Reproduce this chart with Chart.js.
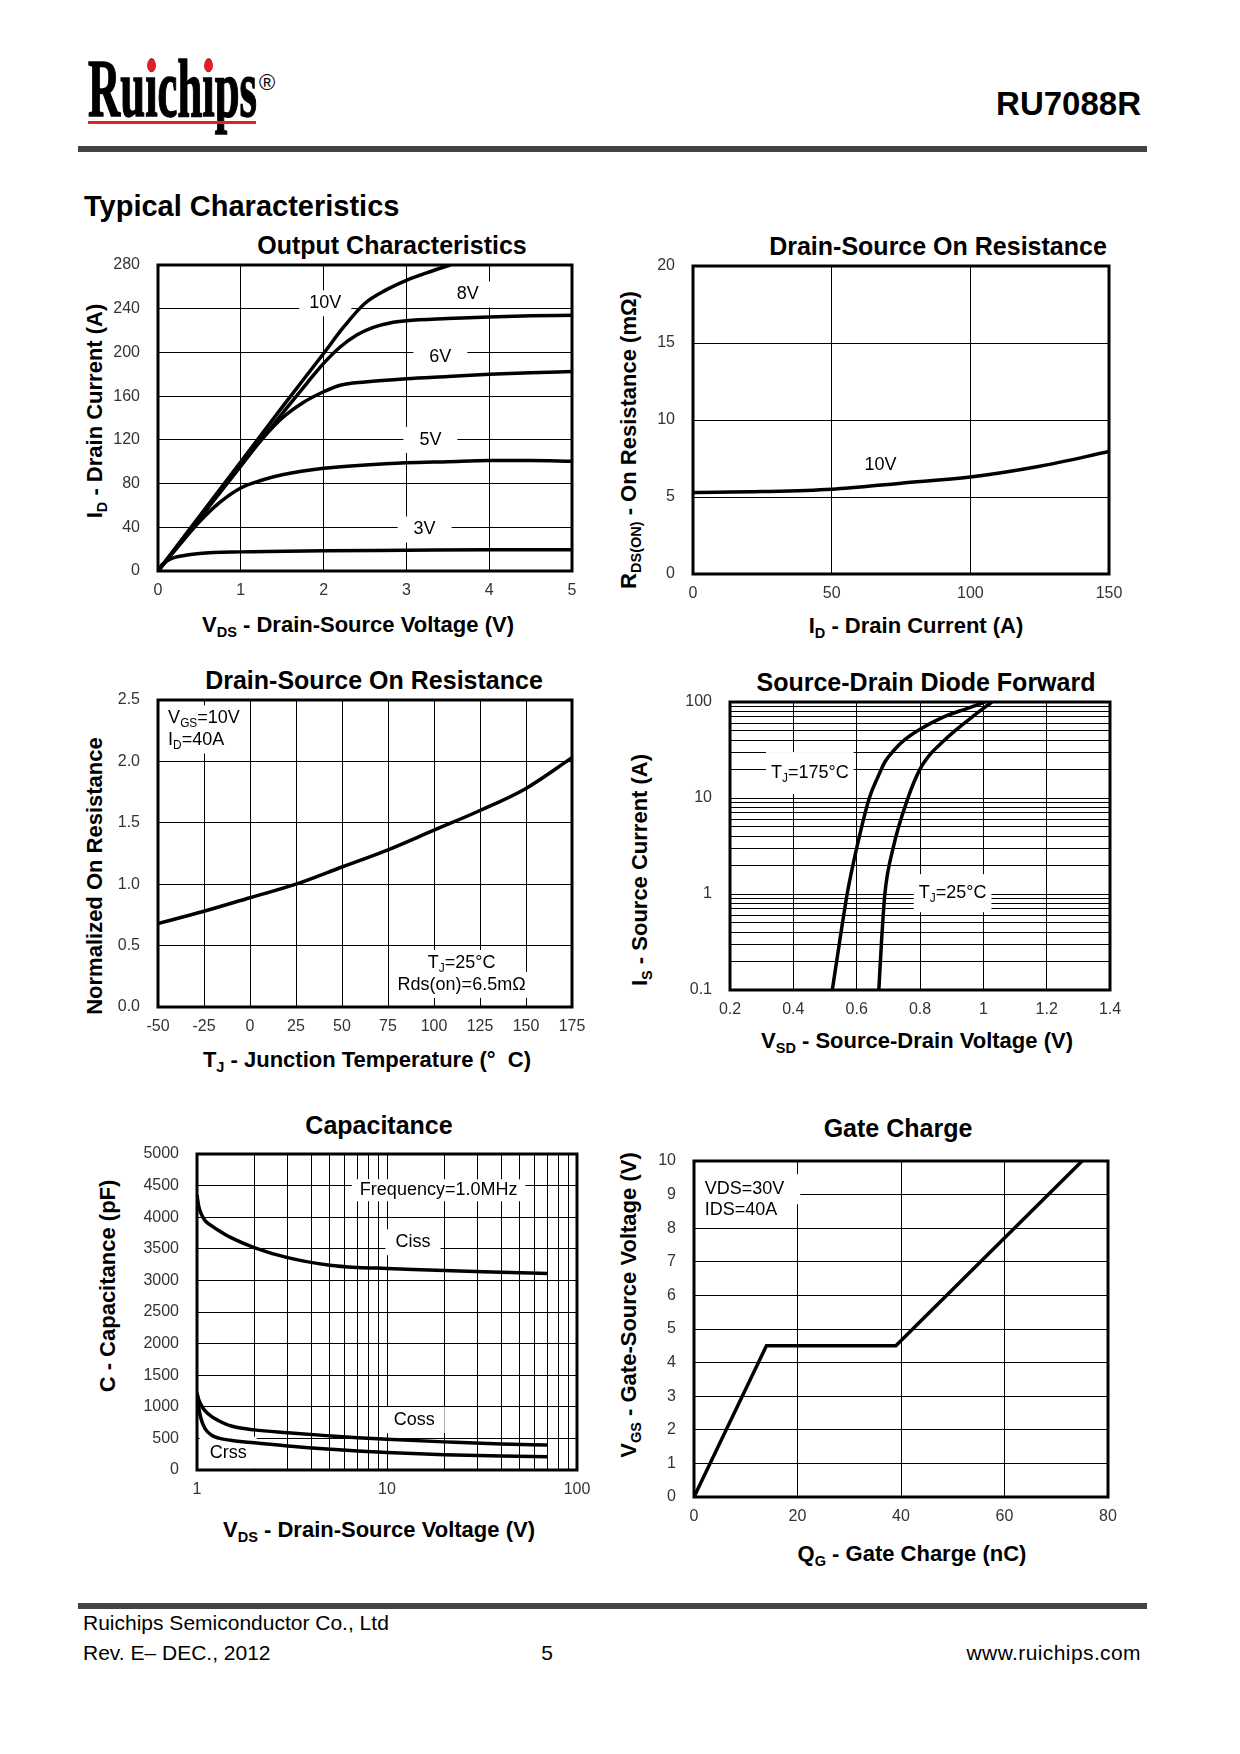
<!DOCTYPE html>
<html>
<head>
<meta charset="utf-8">
<script src="https://cdn.jsdelivr.net/npm/chart.js@4.4.0/dist/chart.umd.min.js"></script>
<style>
body { margin: 0; background: #fff; }
#page { position: relative; width: 1240px; height: 1754px; overflow: hidden; font-family: "Liberation Sans", Arial, sans-serif; color: #000; }
.abs { position: absolute; white-space: nowrap; }
.ct { font-weight: bold; font-size: 25px; transform: translate(-50%, -50%); }
.at { font-weight: bold; font-size: 22px; transform: translate(-50%, -50%); }
.ay { font-weight: bold; font-size: 22px; transform: translate(-50%, -50%) rotate(-90deg); }
.sb { font-size: 0.66em; vertical-align: -0.3em; }
.bar { position: absolute; left: 78px; width: 1069px; height: 6px; background: #444; }
.foot { font-size: 21px; transform: translateY(-50%); }
canvas { position: absolute; }
</style>
</head>
<body>
<div id="page">
  <div class="abs" style="left:88px;top:48px;font-family:'Liberation Serif',serif;font-weight:bold;font-size:82px;line-height:82px;transform:scaleX(0.545);transform-origin:left top;-webkit-text-stroke:1.5px #000;">Ruichips</div>
  <div class="abs" style="left:147px;top:59px;width:9px;height:13px;border-radius:50%;background:#e31e24;"></div>
  <div class="abs" style="left:204px;top:59px;width:9px;height:13px;border-radius:50%;background:#e31e24;"></div>
  <div class="abs" style="left:88px;top:121px;width:168px;height:3px;background:#e31e24;"></div>
  <div class="abs" style="left:259px;top:70px;font-size:22px;">®</div>
  <div class="abs" style="right:99px;top:104px;font-size:33px;font-weight:bold;transform:translateY(-50%);">RU7088R</div>
  <div class="bar" style="top:146px;"></div>
  <div class="abs" style="left:84px;top:206px;font-size:29px;font-weight:bold;transform:translateY(-50%);">Typical Characteristics</div>

  <div class="abs ct" style="left:392px;top:245px;">Output Characteristics</div>
  <div class="abs at" style="left:358px;top:626px;">V<span class="sb">DS</span> - Drain-Source Voltage (V)</div>
  <div class="abs ay" style="left:96px;top:411px;">I<span class="sb">D</span> - Drain Current (A)</div>

  <div class="abs ct" style="left:938px;top:246px;">Drain-Source On Resistance</div>
  <div class="abs at" style="left:916px;top:627px;">I<span class="sb">D</span> - Drain Current (A)</div>
  <div class="abs ay" style="left:630px;top:440px;">R<span class="sb">DS(ON)</span> - On Resistance (mΩ)</div>

  <div class="abs ct" style="left:374px;top:680px;">Drain-Source On Resistance</div>
  <div class="abs at" style="left:367px;top:1061px;">T<span class="sb">J</span> - Junction Temperature (°&nbsp; C)</div>
  <div class="abs ay" style="left:95px;top:876px;">Normalized On Resistance</div>

  <div class="abs ct" style="left:926px;top:682px;">Source-Drain Diode Forward</div>
  <div class="abs at" style="left:917px;top:1042px;">V<span class="sb">SD</span> - Source-Drain Voltage (V)</div>
  <div class="abs ay" style="left:641px;top:870px;">I<span class="sb">S</span> - Source Current (A)</div>

  <div class="abs ct" style="left:379px;top:1125px;">Capacitance</div>
  <div class="abs at" style="left:379px;top:1531px;">V<span class="sb">DS</span> - Drain-Source Voltage (V)</div>
  <div class="abs ay" style="left:108px;top:1286px;">C - Capacitance (pF)</div>

  <div class="abs ct" style="left:898px;top:1128px;">Gate Charge</div>
  <div class="abs at" style="left:912px;top:1555px;">Q<span class="sb">G</span> - Gate Charge (nC)</div>
  <div class="abs ay" style="left:630px;top:1305px;">V<span class="sb">GS</span> - Gate-Source Voltage (V)</div>

  <div class="bar" style="top:1603px;"></div>
  <div class="abs foot" style="left:83px;top:1623px;">Ruichips Semiconductor Co., Ltd</div>
  <div class="abs foot" style="left:83px;top:1653px;">Rev. E– DEC., 2012</div>
  <div class="abs foot" style="left:547px;top:1653px;transform:translate(-50%,-50%);">5</div>
  <div class="abs foot" style="right:99px;top:1653px;letter-spacing:0.4px;">www.ruichips.com</div>
</div>
<script>
// Output characteristics (VDS in V, ID in A)
const vds10 = [0, 0.5, 1, 1.5, 2, 2.25, 2.5, 2.75, 3, 3.25, 3.53];
const id10 = [0, 50, 100, 150, 199, 224, 245, 257, 266, 273, 280];
const vds8 = [0, 0.5, 1, 1.5, 1.8, 2, 2.2, 2.4, 2.6, 2.8, 3, 3.5, 4, 4.5, 5];
const id8 = [0, 48, 97, 144, 172, 190, 205, 216, 223, 227, 229, 231, 232.5, 233.5, 234];
const vds6 = [0, 0.5, 1, 1.25, 1.5, 1.75, 2, 2.2, 2.5, 3, 3.5, 4, 4.5, 5];
const id6 = [0, 48, 96, 120, 140, 154, 164, 170, 173, 176, 178, 180, 181.5, 182.5];
const vds5 = [0, 0.25, 0.5, 0.75, 1, 1.25, 1.5, 2, 2.5, 3, 3.5, 4, 4.5, 5];
const id5 = [0, 23, 45, 63, 76, 83, 88, 94, 97, 99, 100, 101, 101, 100.5];
const vds3 = [0, 0.05, 0.15, 0.3, 0.5, 1, 2, 3, 4, 5];
const id3 = [0, 6, 11, 14, 16, 17.5, 18.5, 19, 19.5, 19.5];
const outTicksX = [0, 1, 2, 3, 4, 5];
const outTicksY = [0, 40, 80, 120, 160, 200, 240, 280];

// On resistance vs drain current (VGS = 10V)
const idRds = [0, 25, 50, 75, 100, 125, 150];
const rds10 = [5.3, 5.35, 5.5, 5.9, 6.3, 7.0, 7.95];
const rdsTicksX = [0, 50, 100, 150];
const rdsTicksY = [0, 5, 10, 15, 20];

// Normalized on resistance vs junction temperature
const tj = [-50, -25, 0, 25, 50, 75, 100, 125, 150, 175];
const rNorm = [0.68, 0.78, 0.89, 1.0, 1.14, 1.28, 1.44, 1.6, 1.78, 2.03];
const tjTicks = [-50, -25, 0, 25, 50, 75, 100, 125, 150, 175];
const rNormTicks = [0, 0.5, 1, 1.5, 2, 2.5];

// Source-drain diode forward (VSD in V, IS in A)
const vsd175 = [0.523, 0.545, 0.57, 0.60, 0.64, 0.665, 0.69, 0.72, 0.75, 0.80, 0.875, 0.95, 1.005];
const is175 = [0.1, 0.3, 1, 3, 10, 16, 24, 32, 40, 52, 70, 86, 100];
const vsd25 = [0.670, 0.678, 0.689, 0.715, 0.762, 0.80, 0.83, 0.87, 0.91, 0.965, 1.027];
const is25 = [0.1, 0.3, 1, 3, 10, 20, 28, 38, 50, 70, 100];
const vsdTicks = [0.2, 0.4, 0.6, 0.8, 1, 1.2, 1.4];
const isTicks = [0.1, 0.2, 0.3, 0.4, 0.5, 0.6, 0.7, 0.8, 0.9, 1, 2, 3, 4, 5, 6, 7, 8, 9,
                 10, 20, 30, 40, 50, 60, 70, 80, 90, 100];
const isLabels = [0.1, 1, 10, 100];

// Capacitance (VDS in V, C in pF)
const vdsCap = [1, 1.02, 1.05, 1.1, 1.2, 1.3, 1.5, 2, 3, 5, 7, 10, 20, 40, 70];
const ciss = [4350, 4180, 4060, 3950, 3860, 3790, 3680, 3520, 3360, 3240, 3205, 3190, 3155, 3130, 3110];
const coss = [1220, 1120, 1030, 940, 840, 780, 700, 635, 590, 540, 510, 485, 445, 410, 395];
const crss = [1220, 1000, 810, 660, 545, 505, 470, 430, 380, 330, 300, 275, 243, 222, 210];
const capTicksX = [1, 2, 3, 4, 5, 6, 7, 8, 9, 10, 20, 30, 40, 50, 60, 70, 80, 90, 100];
const capLabelsX = [1, 10, 100];
const capTicksY = [0, 500, 1000, 1500, 2000, 2500, 3000, 3500, 4000, 4500, 5000];

// Gate charge (QG in nC, VGS in V)
const qg = [0, 14, 39, 75];
const vgs = [0, 4.5, 4.5, 10];
const qgTicks = [0, 20, 40, 60, 80];
const vgsTicks = [0, 1, 2, 3, 4, 5, 6, 7, 8, 9, 10];

Chart.defaults.font.family = '"Liberation Sans", Arial, sans-serif';

const page = document.getElementById('page');

function series(xs, ys, smooth) {
    return {
        data: xs.map((x, i) => ({x: x, y: ys[i]})),
        borderColor: '#000',
        borderWidth: 3.5,
        pointRadius: 0,
        fill: false,
        tension: 0,
        cubicInterpolationMode: smooth ? 'monotone' : 'default'
    };
}

function drawNote(ctx, px, py, n) {
    const size = 18, subSize = size * 0.66;
    let w = 0;
    const segs = n.parts.map(p => {
        const sub = p[1] === 1;
        ctx.font = (sub ? subSize : size) + 'px "Liberation Sans", Arial, sans-serif';
        const sw = ctx.measureText(p[0]).width;
        w += sw;
        return {t: p[0], sub: sub, w: sw};
    });
    const x0 = n.align === 'left' ? px : px - w / 2;
    if (n.bg !== false) {
        const pad = n.pad || [10, 4];
        ctx.fillStyle = '#fff';
        ctx.fillRect(x0 - pad[0], py - size / 2 - pad[1], w + 2 * pad[0], size + 2 * pad[1]);
    }
    ctx.fillStyle = '#000';
    ctx.textAlign = 'left';
    ctx.textBaseline = 'middle';
    let x = x0;
    segs.forEach(s => {
        ctx.font = (s.sub ? subSize : size) + 'px "Liberation Sans", Arial, sans-serif';
        ctx.fillText(s.t, x, s.sub ? py + size * 0.3 : py);
        x += s.w;
    });
}

function notesPlugin(notes) {
    return {
        id: 'notes',
        beforeDatasetsDraw(chart) {
            const ctx = chart.ctx, a = chart.chartArea;
            ctx.save();
            notes.forEach(n => drawNote(ctx, chart.scales.x.getPixelForValue(n.x), chart.scales.y.getPixelForValue(n.y), n));
            ctx.strokeStyle = '#000';
            ctx.lineWidth = 3;
            ctx.strokeRect(a.left, a.top, a.right - a.left, a.bottom - a.top);
            ctx.restore();
        }
    };
}

function axis(a, dir, size) {
    return {
        type: a.type || 'linear',
        min: a.min,
        max: a.max,
        grid: {color: '#000', lineWidth: 1, drawTicks: false},
        border: {display: false},
        ticks: {
            autoSkip: false,
            maxRotation: 0,
            padding: dir === 'y' ? 18 : 10,
            color: '#333',
            font: {size: 16},
            callback: a.label || (v => String(v))
        },
        afterBuildTicks: s => { s.ticks = a.ticks.map(v => ({value: v})); },
        afterFit: s => { if (dir === 'y') s.width = size; else s.height = size; }
    };
}

// label padding of the y axis adds to the top gap, so keep padT above it
function makeChart(g, cfg) {
    const padL = 80, padT = 34, padR = 34, padB = 45;
    const w = g.r - g.l + padL + padR, h = g.b - g.t + padT + padB;
    const cv = document.createElement('canvas');
    cv.width = w; cv.height = h;
    cv.style.left = (g.l - padL) + 'px';
    cv.style.top = (g.t - padT) + 'px';
    cv.style.width = w + 'px';
    cv.style.height = h + 'px';
    page.appendChild(cv);
    return new Chart(cv.getContext('2d'), {
        type: 'line',
        data: {datasets: cfg.datasets},
        options: {
            responsive: false,
            animation: false,
            devicePixelRatio: 1,
            layout: {padding: {left: 0, top: padT, right: padR, bottom: 0}},
            plugins: {legend: {display: false}, tooltip: {enabled: false}},
            scales: {x: axis(cfg.x, 'x', padB), y: axis(cfg.y, 'y', padL)}
        },
        plugins: [notesPlugin(cfg.notes || [])]
    });
}

makeChart({l: 158, t: 265, r: 572, b: 571}, {
    datasets: [series(vds10, id10, true), series(vds8, id8, true), series(vds6, id6, true),
               series(vds5, id5, true), series(vds3, id3, true)],
    x: {min: 0, max: 5, ticks: outTicksX},
    y: {min: 0, max: 280, ticks: outTicksY},
    notes: [
        {x: 2.02, y: 245, parts: [['10V']], pad: [10, 4]},
        {x: 3.74, y: 253, parts: [['8V']], pad: [14, 4]},
        {x: 3.41, y: 196, parts: [['6V']], pad: [16, 4]},
        {x: 3.29, y: 120, parts: [['5V']], pad: [16, 4]},
        {x: 3.22, y: 38, parts: [['3V']], pad: [16, 4]}
    ]
});

makeChart({l: 693, t: 266, r: 1109, b: 574}, {
    datasets: [series(idRds, rds10, true)],
    x: {min: 0, max: 150, ticks: rdsTicksX},
    y: {min: 0, max: 20, ticks: rdsTicksY},
    notes: [{x: 67.6, y: 7.06, parts: [['10V']], bg: false}]
});

makeChart({l: 158, t: 700, r: 572, b: 1007}, {
    datasets: [series(tj, rNorm, true)],
    x: {min: -50, max: 175, ticks: tjTicks},
    y: {min: 0, max: 2.5, ticks: rNormTicks, label: v => v.toFixed(1)},
    notes: [
        {x: -44.5, y: 2.35, align: 'left', parts: [['V'], ['GS', 1], ['=10V']], pad: [4, 4]},
        {x: -44.5, y: 2.17, align: 'left', parts: [['I'], ['D', 1], ['=40A']], pad: [4, 4]},
        {x: 115, y: 0.358, parts: [['T'], ['J', 1], ['=25°C']], pad: [8, 4]},
        {x: 115, y: 0.18, parts: [['Rds(on)=6.5mΩ']], pad: [6, 4]}
    ]
});

makeChart({l: 730, t: 702, r: 1110, b: 990}, {
    datasets: [series(vsd175, is175, true), series(vsd25, is25, true)],
    x: {min: 0.2, max: 1.4, ticks: vsdTicks},
    y: {type: 'logarithmic', min: 0.1, max: 100, ticks: isTicks,
        label: v => isLabels.includes(v) ? String(v) : ''},
    notes: [
        {x: 0.452, y: 18.2, parts: [['T'], ['J', 1], ['=175°C']], pad: [5, 12]},
        {x: 0.903, y: 1.02, parts: [['T'], ['J', 1], ['=25°C']], pad: [5, 10]}
    ]
});

makeChart({l: 197, t: 1154, r: 577, b: 1470}, {
    datasets: [series(vdsCap, ciss, true), series(vdsCap, coss, true), series(vdsCap, crss, true)],
    x: {type: 'logarithmic', min: 1, max: 100, ticks: capTicksX,
        label: v => capLabelsX.includes(v) ? String(v) : ''},
    y: {min: 0, max: 5000, ticks: capTicksY},
    notes: [
        {x: 18.7, y: 4426, parts: [['Frequency=1.0MHz']], pad: [8, 2]},
        {x: 13.7, y: 3604, parts: [['Ciss']], pad: [10, 4]},
        {x: 13.9, y: 790, parts: [['Coss']], pad: [10, 4]},
        {x: 1.46, y: 274, parts: [['Crss']], pad: [10, 7]}
    ]
});

makeChart({l: 694, t: 1161, r: 1108, b: 1497}, {
    datasets: [series(qg, vgs, false)],
    x: {min: 0, max: 80, ticks: qgTicks},
    y: {min: 0, max: 10, ticks: vgsTicks},
    notes: [
        {x: 2.07, y: 9.16, align: 'left', parts: [['VDS=30V']], pad: [16, 6]},
        {x: 2.07, y: 8.54, align: 'left', parts: [['IDS=40A']], pad: [16, 6]}
    ]
});
</script>
</body>
</html>
